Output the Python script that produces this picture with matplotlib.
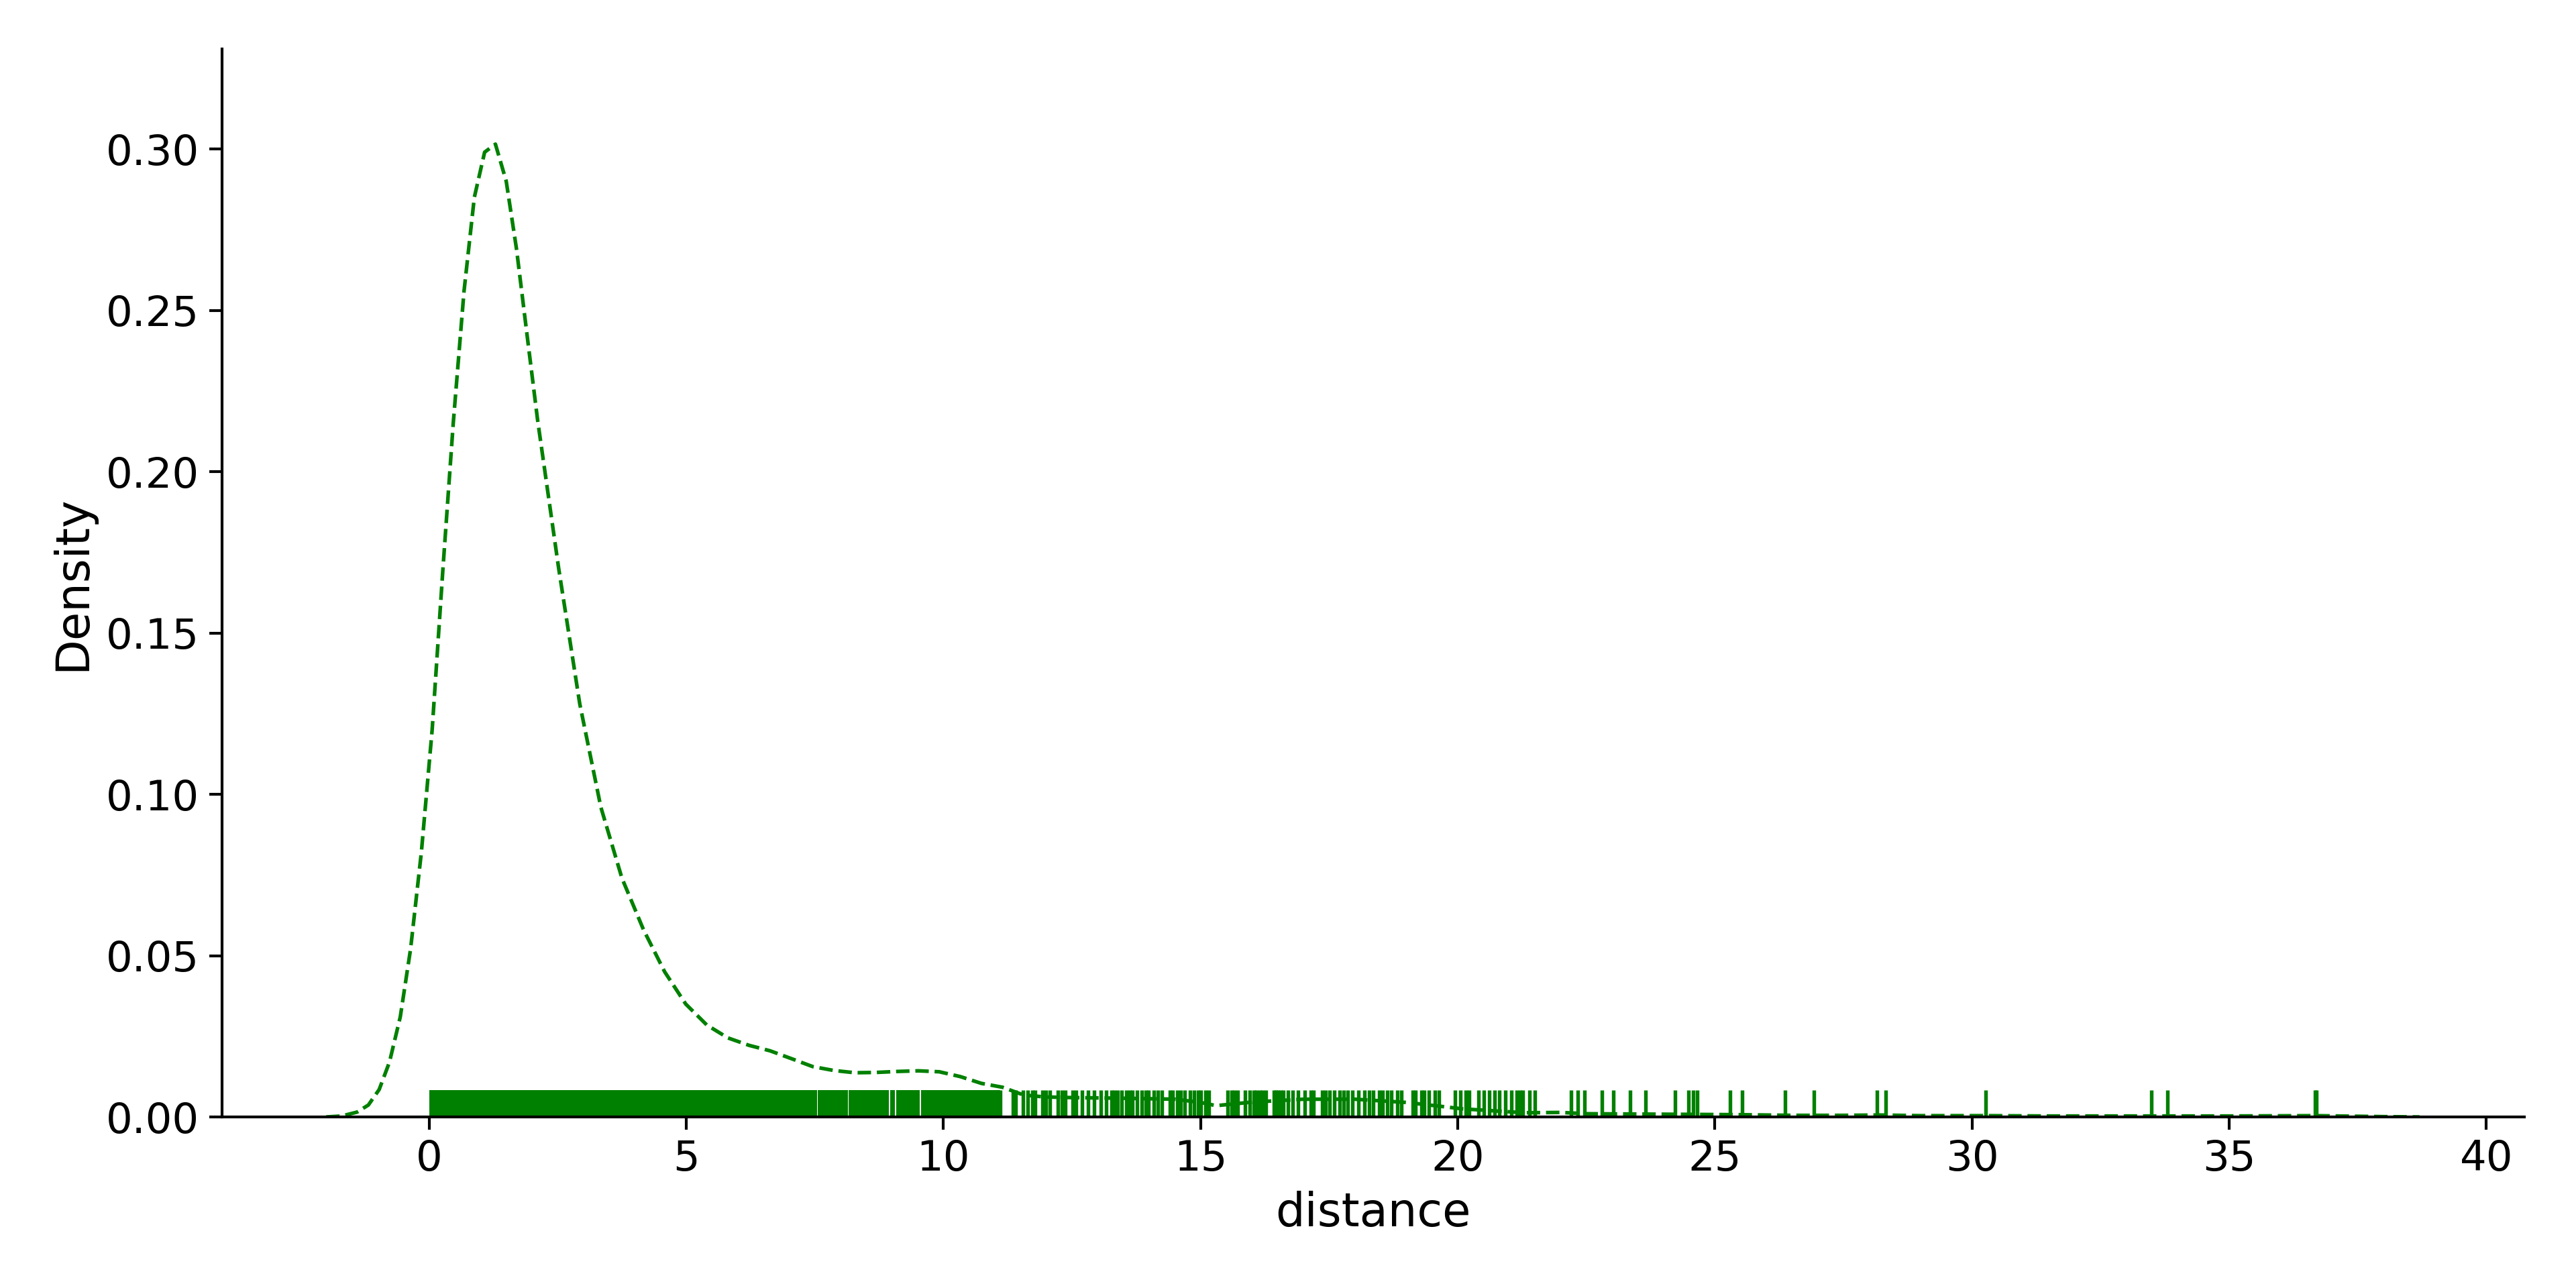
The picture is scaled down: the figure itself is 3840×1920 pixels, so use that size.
import matplotlib
matplotlib.use("Agg")
import matplotlib.pyplot as plt

# KDE curve of distance
kde_x = [-2.00, -1.70, -1.40, -1.18, -0.97, -0.77, -0.56, -0.36, -0.15, 0.06,
         0.27, 0.47, 0.68, 0.88, 1.08, 1.29, 1.50, 1.70, 1.90,
         2.11, 2.52, 2.93, 3.34, 3.75, 4.17, 4.58, 4.99, 5.40, 5.81,
         6.22, 6.63, 7.04, 7.46, 7.87, 8.28, 8.69, 9.10, 9.51, 9.92,
         10.33, 10.74, 11.15, 11.56, 11.97, 12.50, 13.50, 14.50, 15.00, 15.30,
         16.00, 17.00, 18.00, 19.00, 19.50, 20.10, 20.60, 21.30, 22.00, 22.50,
         23.50, 24.50, 25.50, 26.50, 27.50, 28.20, 29.00, 30.30, 31.50, 33.60,
         35.00, 36.70, 38.00, 38.70]
kde_y = [0.0000, 0.0003, 0.0015, 0.0037, 0.0085, 0.0170, 0.0310, 0.0520, 0.0820, 0.1200,
         0.1700, 0.2150, 0.2560, 0.2850, 0.2990, 0.3015, 0.2900, 0.2690, 0.2430,
         0.2160, 0.1700, 0.1280, 0.0960, 0.0740, 0.0580, 0.0450, 0.0350, 0.0285, 0.0245,
         0.0222, 0.0205, 0.0181, 0.0156, 0.0144, 0.0137, 0.0138, 0.0141, 0.0143, 0.0140,
         0.0125, 0.0104, 0.0092, 0.0068, 0.0062, 0.0060, 0.0058, 0.0055, 0.0045, 0.0035,
         0.0046, 0.0055, 0.0055, 0.0045, 0.0036, 0.0025, 0.0020, 0.0013, 0.0014, 0.0010,
         0.0009, 0.0008, 0.0007, 0.0005, 0.0005, 0.0006, 0.0004, 0.0004, 0.0003, 0.0003,
         0.0003, 0.0004, 0.0001, 0.0000]

# rug: stretches where the ticks merge into a solid block
rug_dense = [(0.00, 7.54), (7.56, 8.14), (8.16, 8.94), (8.96, 9.06),
             (9.08, 9.54), (9.56, 11.10)]

# rug: single ticks
rug_ticks = [11.11, 11.35, 11.41, 11.55, 11.64, 11.73, 11.78, 11.92, 11.99, 12.07,
             12.23, 12.31, 12.37, 12.51, 12.58, 12.69, 12.81, 12.93, 13.06, 13.16,
             13.27, 13.32, 13.39, 13.47, 13.55, 13.62, 13.67, 13.76, 13.85, 13.94,
             13.99, 14.09, 14.17, 14.25, 14.40, 14.46, 14.55, 14.61, 14.69, 14.79,
             14.87, 14.95, 15.01, 15.10, 15.16,
             15.53, 15.60, 15.66, 15.72, 15.86, 15.95, 16.03, 16.09, 16.15, 16.21,
             16.27, 16.42, 16.46, 16.51, 16.56, 16.61, 16.70, 16.79, 16.90, 17.02,
             17.14, 17.20, 17.37, 17.43, 17.51, 17.60, 17.70, 17.78, 17.86, 17.95,
             18.07, 18.19, 18.28, 18.36, 18.48, 18.54, 18.63, 18.71, 18.83, 18.91,
             19.12, 19.18, 19.29, 19.35, 19.44, 19.56, 19.64, 19.95, 20.05, 20.16,
             20.22, 20.40, 20.51, 20.61, 20.72, 20.81, 20.92, 21.04, 21.15, 21.21,
             21.27, 21.39, 21.50,
             22.20, 22.33, 22.47, 22.80, 23.02, 23.35, 23.65, 24.22, 24.49, 24.58,
             24.65, 25.29, 25.53, 26.36, 26.93, 28.15, 28.32, 30.27, 33.49, 33.80,
             36.67, 36.70]

x_ticks = [0, 5, 10, 15, 20, 25, 30, 35, 40]
y_ticks = [0.00, 0.05, 0.10, 0.15, 0.20, 0.25, 0.30]

fig = plt.figure(figsize=(12.8, 6.4), dpi=300)
ax = fig.add_axes([0.0861, 0.1328, 0.8939, 0.8292])

# rug plot
ax.broken_barh([(a, b - a) for a, b in rug_dense], (0, 0.025),
               transform=ax.get_xaxis_transform(), facecolor='green', edgecolor='none')
ax.vlines(rug_ticks, 0, 0.025, transform=ax.get_xaxis_transform(),
          color='green', lw=1.3)

# density curve
ax.plot(kde_x, kde_y, '--', color='green', lw=1.3)

ax.set_xlim(-4.03, 40.74)
ax.set_ylim(0, 0.331)
ax.set_xticks(x_ticks)
ax.set_yticks(y_ticks)
ax.set_yticklabels([f'{v:.2f}' for v in y_ticks])
ax.tick_params(labelsize=15, length=4.5, width=1.0)
ax.set_xlabel('distance', fontsize=16.5)
ax.set_ylabel('Density', fontsize=16.5)

for s in ['top', 'right']:
    ax.spines[s].set_visible(False)
for s in ['left', 'bottom']:
    ax.spines[s].set_linewidth(1.0)

fig.savefig('out.png', dpi=300)
